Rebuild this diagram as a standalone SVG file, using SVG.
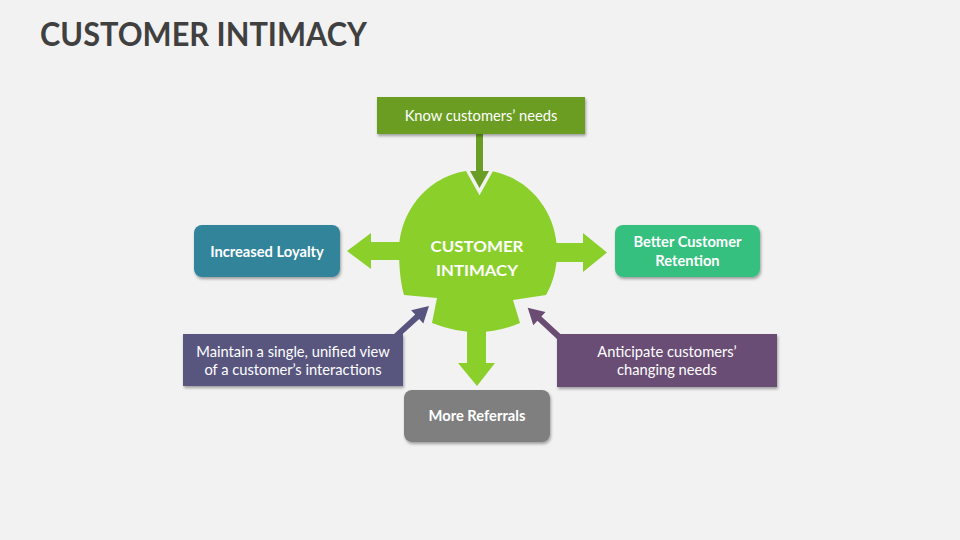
<svg xmlns="http://www.w3.org/2000/svg" width="960" height="540" viewBox="0 0 960 540">
<defs>
<filter id="sh" x="-10%" y="-20%" width="120%" height="150%">
<feDropShadow dx="1" dy="2" stdDeviation="1.5" flood-color="#000" flood-opacity="0.35"/>
</filter>
<style>
.t{font-family:Lato,"Open Sans","Liberation Sans",sans-serif;fill:#fff;text-anchor:middle;font-size:14.7px}
.b{font-weight:bold}
.cut{stroke:#f2f2f2;stroke-width:7;stroke-linejoin:miter;stroke-miterlimit:10;paint-order:stroke fill}
.cut2{stroke:#f2f2f2;stroke-width:5;stroke-linejoin:miter;stroke-miterlimit:10;paint-order:stroke fill}
</style>
</defs>
<rect width="960" height="540" fill="#f2f2f2"/>
<text x="40" y="46" font-family="Lato,'Liberation Sans',sans-serif" font-weight="bold" font-size="32" fill="#404040" textLength="327" lengthAdjust="spacingAndGlyphs">CUSTOMER INTIMACY</text>

<g id="center">
<path d="M478,170 C521.6,170 557,206.7 557,252 C557,268 553,283 546,295 L513,300 L520,323 Q478,341 432,323 L437,298 L404,295 C401,285 399,268 399,252 C399,206.7 434.4,170 478,170 Z" fill="#8acf2a"/>
<text class="t b" x="477" y="252" font-size="20" textLength="93" lengthAdjust="spacingAndGlyphs">CUSTOMER</text>
<text class="t b" x="477" y="276" font-size="20" textLength="82" lengthAdjust="spacingAndGlyphs">INTIMACY</text>
</g>

<g id="connectors">
<polygon points="347,251 371,233 371,242 412,242 412,260 371,260 371,269" fill="#8acf2a"/>
<polygon points="545,243 583,243 583,233 607,252.5 583,272 583,262 545,262" fill="#8acf2a"/>
<polygon points="467,318 486,318 486,363 495,363 477,386 458,363 467,363" fill="#8acf2a"/>
<polygon class="cut" points="476,134 483,134 483,171 489,171 479.5,188 470,171 476,171" fill="#6a9d23"/>
<polygon class="cut2" points="429,306 423.3,323.4 419.2,319 395.6,340.6 391.6,336.2 415.2,314.6 411.1,310.2" fill="#57557f"/>
<polygon class="cut2" points="527.7,307.7 545.5,312 541.4,316.4 563.4,336.8 559.4,341.2 537.4,320.8 533.3,325.2" fill="#6b4d74"/>
</g>

<g id="know">
<rect x="377" y="97" width="208" height="37" fill="#6a9d23" filter="url(#sh)"/>
<text class="t" x="481" y="121">Know customers’ needs</text>
</g>
<g id="loyalty">
<rect x="194" y="225" width="146" height="52" rx="8" fill="#31849b" filter="url(#sh)"/>
<text class="t b" x="267" y="257">Increased Loyalty</text>
</g>
<g id="retention">
<rect x="615" y="225" width="145" height="52" rx="8" fill="#35c07f" filter="url(#sh)"/>
<text class="t b" x="687.5" y="247">Better Customer</text>
<text class="t b" x="687.5" y="266">Retention</text>
</g>
<g id="unified">
<rect x="183" y="334" width="220" height="52" fill="#58567f" filter="url(#sh)"/>
<text class="t" x="293" y="357">Maintain a single, unified view</text>
<text class="t" x="293" y="375">of a customer’s interactions</text>
</g>
<g id="anticipate">
<rect x="557" y="334" width="220" height="53" fill="#6b4d74" filter="url(#sh)"/>
<text class="t" x="667" y="357">Anticipate customers’</text>
<text class="t" x="667" y="375">changing needs</text>
</g>
<g id="referrals">
<rect x="404" y="390" width="146" height="52" rx="8" fill="#7f7f7f" filter="url(#sh)"/>
<text class="t b" x="477" y="421">More Referrals</text>
</g>
</svg>
